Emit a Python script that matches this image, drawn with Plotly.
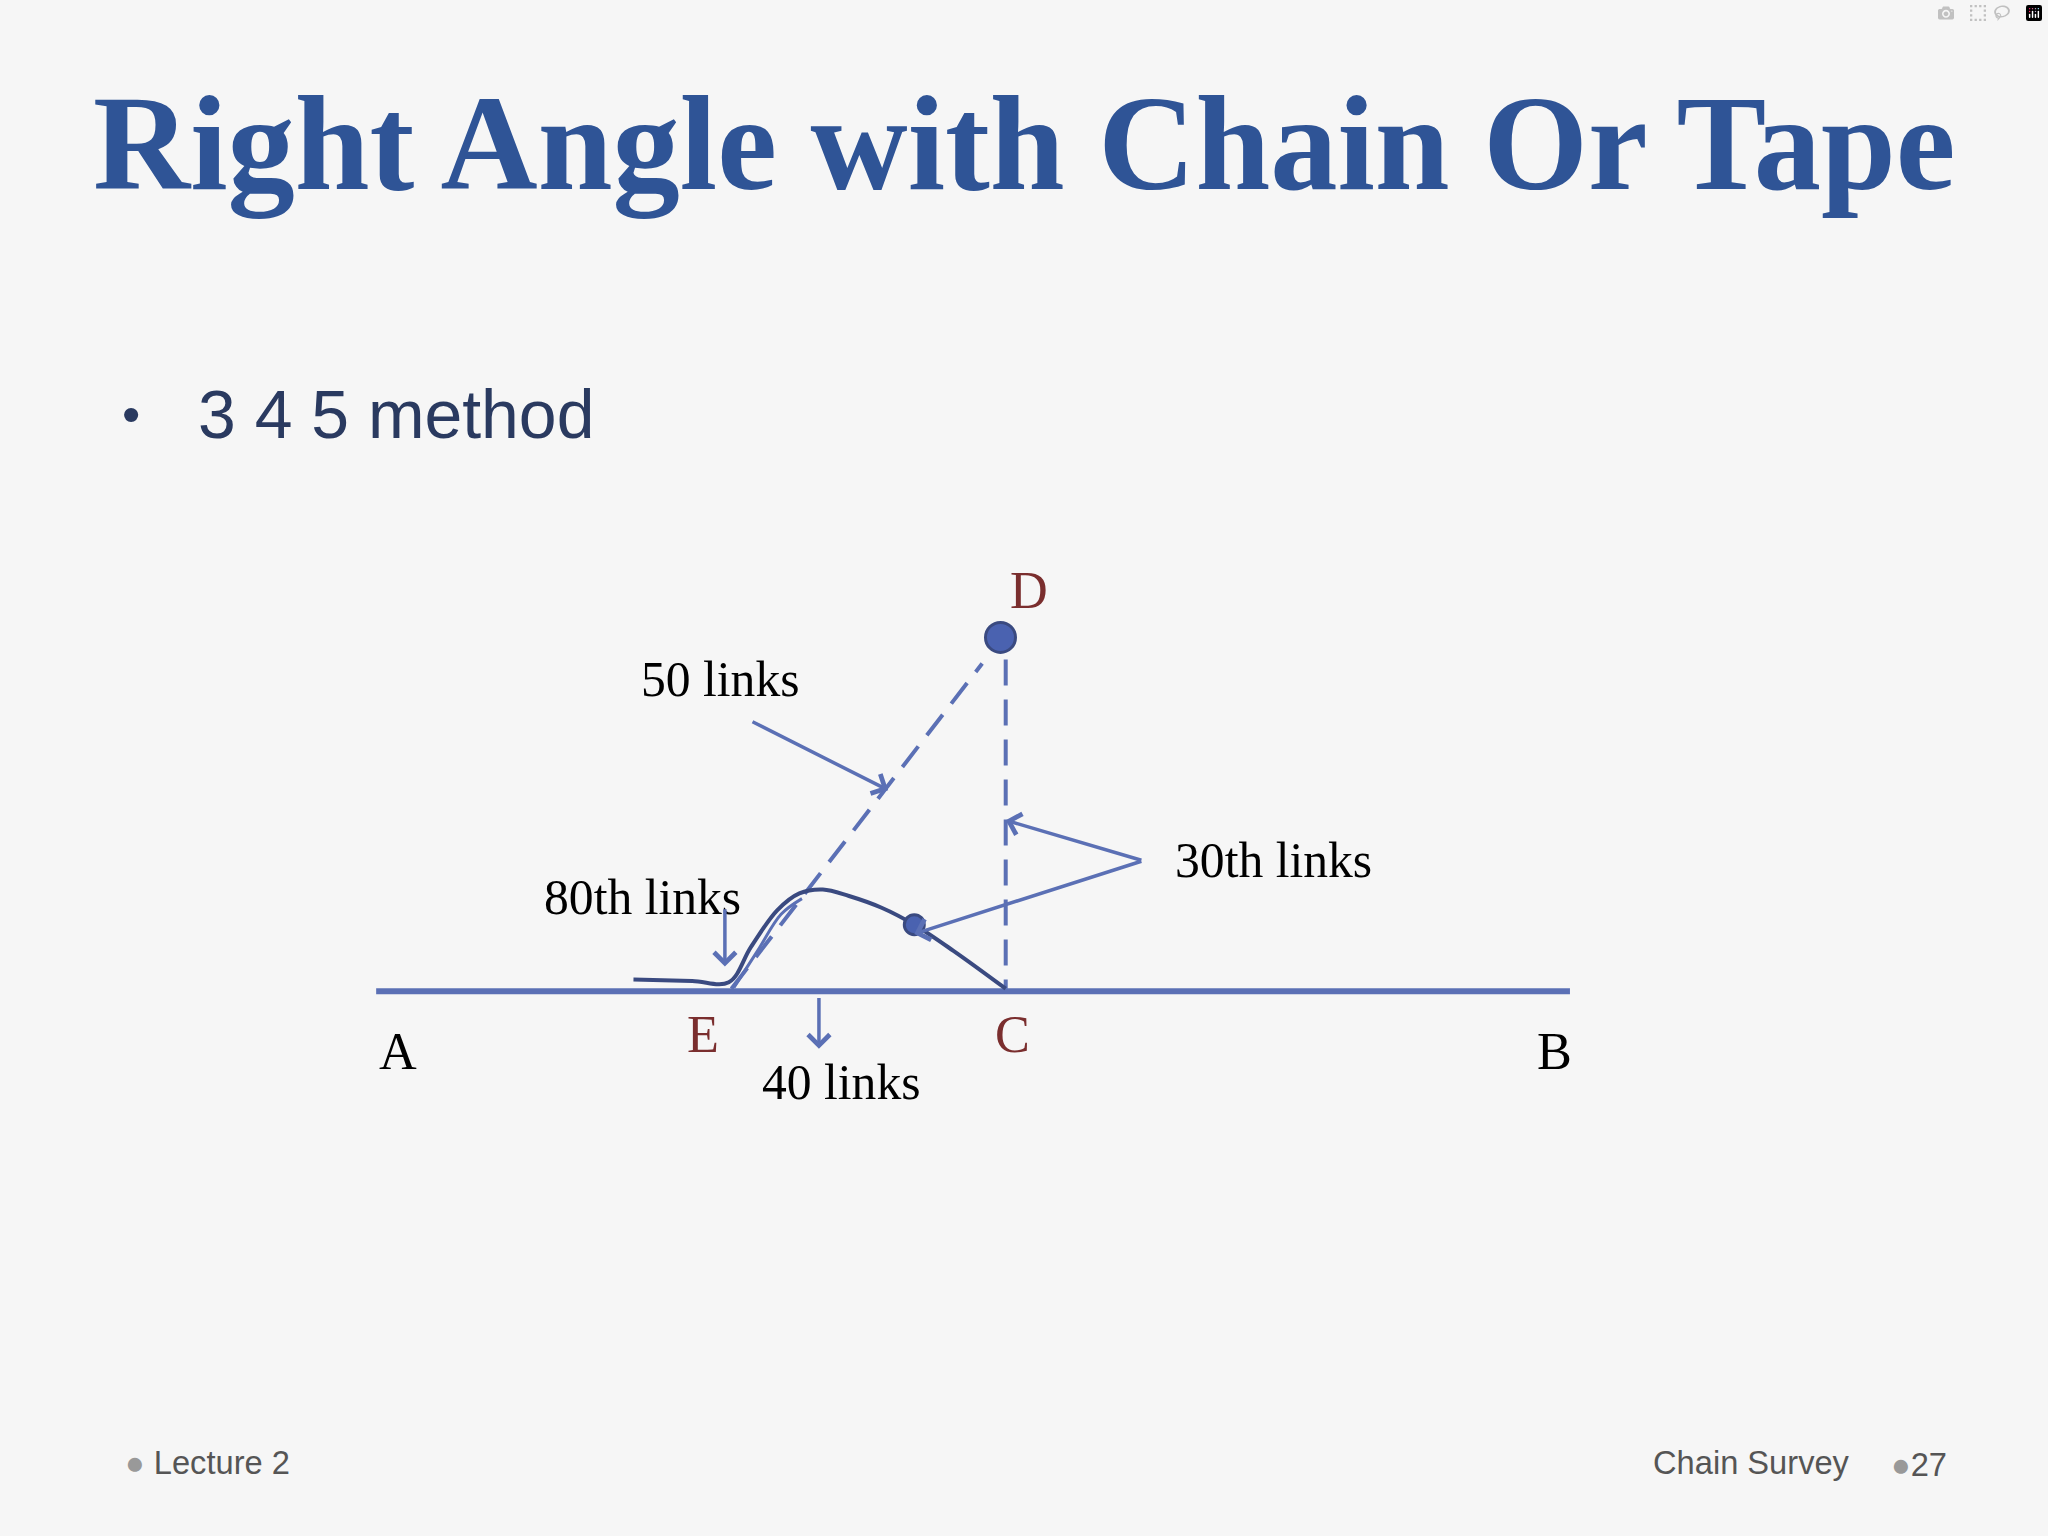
import plotly.graph_objects as go

S = 2048/1568
# diagram coordinates (reference pixel space 1568x1176, y downward)
base_x = [288, 1202]; base_y = [759, 759]
hyp_x = [560, 752]; hyp_y = [757, 508]
perp_x = [770, 770]; perp_y = [505, 757]
chain_x = [485, 530, 558, 575, 595, 612, 630, 650, 675, 700, 730, 770]
chain_y = [750, 751, 752, 725, 697, 684, 681, 686, 695, 708, 728, 757]
chain2_x = [562, 580, 598, 614]
chain2_y = [756, 728, 700, 688]
pins_x = [766, 700]; pins_y = [488, 708]
pt_labels = ["A", "E", "C", "B", "D"]
pt_x = [305, 538, 775, 1190, 788]
pt_y = [805, 792, 792, 805, 452]
pt_colors = ["black", "#7a2e2e", "#7a2e2e", "black", "#7a2e2e"]
len_labels = ["50 links", "30th links", "80th links", "40 links"]
len_x = [552, 975, 492, 644]
len_y = [520, 659, 687, 829]
arrows = [((575, 552), (680, 605)), ((875, 659), (770, 628)), ((875, 659), (700, 715)),
          ((555, 695), (555, 740)), ((627, 763), (627, 803))]

blue = "#5b70b5"; dark = "#3a4a80"
fig = go.Figure()
fig.add_trace(go.Scatter(x=base_x, y=base_y, mode="lines", line=dict(color=blue, width=6)))
fig.add_trace(go.Scatter(x=hyp_x, y=hyp_y, mode="lines", line=dict(color=blue, width=4, dash="26px,14px")))
fig.add_trace(go.Scatter(x=perp_x, y=perp_y, mode="lines", line=dict(color=blue, width=4, dash="26px,14px")))
fig.add_trace(go.Scatter(x=chain_x, y=chain_y, mode="lines", line=dict(color=dark, width=4, shape="spline")))
fig.add_trace(go.Scatter(x=chain2_x, y=chain2_y, mode="lines", line=dict(color=blue, width=3, shape="spline")))
fig.add_trace(go.Scatter(x=pins_x, y=pins_y, mode="markers",
                         marker=dict(symbol="circle", size=[30, 20], color="#4a62b0", opacity=1,
                                     line=dict(color=dark, width=3))))
fig.update_traces(showlegend=False, hoverinfo="skip")

ann = []
for t, x, y, c in zip(pt_labels, pt_x, pt_y, pt_colors):
    ann.append(dict(x=x, y=y, text=t, showarrow=False, font=dict(family="Liberation Serif", size=40*S, color=c)))
for t, x, y in zip(len_labels, len_x, len_y):
    ann.append(dict(x=x, y=y, text=t, showarrow=False, font=dict(family="Liberation Serif", size=38*S, color="black")))
for (x0, y0), (x1, y1) in arrows:
    ann.append(dict(x=x1, y=y1, ax=x0, ay=y0, xref="x", yref="y", axref="x", ayref="y", text="",
                    showarrow=True, arrowhead=4, arrowsize=1.2, arrowwidth=3.5, arrowcolor=blue))
ann += [
    dict(x=784, y=110, text="<b>Right Angle with Chain Or Tape</b>", showarrow=False,
         font=dict(family="Liberation Serif", size=103*S, color="#2f5496")),
    dict(x=92, y=317, text="•", showarrow=False, xanchor="left", font=dict(family="Liberation Sans", size=40*S, color="#2a3a60")),
    dict(x=150, y=317, text="3 4 5 method", showarrow=False, xanchor="left", font=dict(family="Liberation Sans", size=52*S, color="#2a3a60")),
    dict(x=94, y=1120, text="<span style='color:#999'>●</span> Lecture 2", showarrow=False, xanchor="left", font=dict(family="Liberation Sans", size=25*S, color="#555")),
    dict(x=1418, y=1120, text="Chain Survey", showarrow=False, xanchor="right", font=dict(family="Liberation Sans", size=25*S, color="#555")),
    dict(x=1446, y=1121, text="<span style='color:#999'>●</span>27", showarrow=False, xanchor="left", font=dict(family="Liberation Sans", size=25*S, color="#555")),
]
fig.update_layout(width=2048, height=1536, margin=dict(l=0, r=0, t=0, b=0),
                  paper_bgcolor="#f6f6f6", plot_bgcolor="#f6f6f6", annotations=ann,
                  xaxis=dict(range=[0, 1568], visible=False, fixedrange=True),
                  yaxis=dict(range=[1176, 0], visible=False, fixedrange=True))
fig.write_html("out.html", post_script="document.body.style.margin='0';document.body.style.background='#f6f6f6';")
